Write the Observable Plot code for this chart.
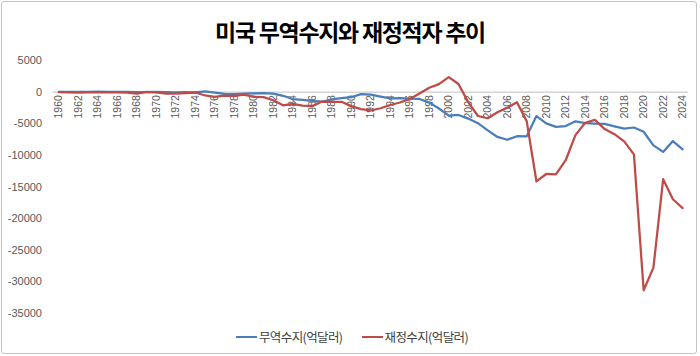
<!DOCTYPE html>
<html>
<head>
<meta charset="utf-8">
<script src="https://cdn.jsdelivr.net/npm/d3@7"></script>
<script src="https://cdn.jsdelivr.net/npm/@observablehq/plot@0.6"></script>
<style>
  html, body { margin: 0; padding: 0; background: #fff; }
  #wrap { position: relative; width: 700px; height: 356px; overflow: hidden; background: #fff; }
  #frame { position: absolute; left: 1px; top: 1px; width: 694px; height: 351px; border: 1.5px solid #c4c4c4; border-radius: 3px; }
  #title { position: absolute; left: 0; top: 19px; width: 700px; text-align: center;
    font-family: "Noto Sans CJK KR", sans-serif; font-weight: 700; font-size: 23px; line-height: 24px;
    letter-spacing: -1.3px; color: #000; }
  #chart { position: absolute; left: 0; top: 50px; }
  #legend { position: absolute; left: 2px; top: 329px; width: 700px; display: flex; justify-content: center; align-items: center;
    font-family: "Noto Sans CJK KR", sans-serif; font-size: 12.5px; line-height: 16px; color: #404040; letter-spacing: -0.6px; }
  .sw { width: 21px; height: 2.5px; margin-right: 2px; }
  .item { display: flex; align-items: center; }
</style>
</head>
<body>
<div id="wrap">
  <div id="frame"></div>
  <div id="title">미국 무역수지와 재정적자 추이</div>
  <div id="chart"></div>
  <div id="legend"></div>
</div>
<script>
const years = [1960,1961,1962,1963,1964,1965,1966,1967,1968,1969,
  1970,1971,1972,1973,1974,1975,1976,1977,1978,1979,
  1980,1981,1982,1983,1984,1985,1986,1987,1988,1989,
  1990,1991,1992,1993,1994,1995,1996,1997,1998,1999,
  2000,2001,2002,2003,2004,2005,2006,2007,2008,2009,
  2010,2011,2012,2013,2014,2015,2016,2017,2018,2019,
  2020,2021,2022,2023,2024];

// 무역수지 (억달러)
const tradeBalance = [35,42,34,42,68,49,29,26,3,1,
  23,-13,-54,19,-43,124,-61,-272,-298,-246,
  -194,-162,-242,-578,-1091,-1219,-1385,-1517,-1146,-931,
  -809,-311,-392,-703,-985,-964,-1041,-1083,-1661,-2586,
  -3725,-3615,-4182,-4905,-6052,-7086,-7533,-6967,-6983,-3792,
  -4947,-5486,-5368,-4619,-4903,-4985,-5020,-5420,-5785,-5594,
  -6264,-8416,-9448,-7734,-9035];

// 재정수지 (억달러)
const fiscalBalance = [3,-33,-71,-48,-59,-14,-37,-86,-252,32,
  -28,-230,-234,-149,-61,-532,-737,-537,-592,-407,
  -738,-790,-1280,-2078,-1854,-2123,-2212,-1497,-1552,-1526,
  -2210,-2692,-2903,-2551,-2032,-1640,-1074,-219,693,1256,
  2362,1282,-1578,-3776,-4127,-3183,-2482,-1607,-4586,-14127,
  -12944,-12996,-10766,-6798,-4848,-4385,-5847,-6654,-7791,-9836,
  -31325,-27753,-13759,-16940,-18330];

const xTickLabels = [1960,1962,1964,1966,1968,1970,1972,1974,1976,1978,1980,1982,1984,1986,1988,1990,
  1992,1994,1996,1998,2000,2002,2004,2006,2008,2010,2012,2014,2016,2018,2020,2022,2024];
const yTickValues = [5000,0,-5000,-10000,-15000,-20000,-25000,-30000,-35000];

const seriesNames = ["무역수지(억달러)", "재정수지(억달러)"];
const seriesColors = ["#4a7ebb", "#be4b48"];

const rows = years.map((y, i) => ({year: y, trade: tradeBalance[i], fiscal: fiscalBalance[i]}));

const chart = Plot.plot({
  width: 700,
  height: 276,
  marginTop: 10,
  marginBottom: 13,
  marginLeft: 52.5,
  marginRight: 12,
  style: {fontFamily: "'Liberation Sans', Arial, sans-serif", fontSize: "11px", color: "#595959", background: "transparent"},
  x: {domain: [1959.4, 2024.6], axis: null},
  y: {domain: [-35000, 5000], ticks: yTickValues, tickSize: 0, tickPadding: 11, tickFormat: d => String(d), label: null},
  marks: [
    Plot.ruleY([0], {stroke: "#bfbfbf", strokeWidth: 1}),
    Plot.text(xTickLabels, {x: d => d, y: () => 0, text: d => String(d), rotate: -90, textAnchor: "end", dy: 3,
      fontSize: 10.5, fill: "#595959"}),
    Plot.line(rows, {x: "year", y: "trade", stroke: seriesColors[0], strokeWidth: 2.25, strokeLinejoin: "round"}),
    Plot.line(rows, {x: "year", y: "fiscal", stroke: seriesColors[1], strokeWidth: 2.25, strokeLinejoin: "round"})
  ]
});
document.getElementById("chart").appendChild(chart);

const legend = document.getElementById("legend");
seriesNames.forEach((name, i) => {
  const item = document.createElement("div");
  item.className = "item";
  if (i > 0) item.style.marginLeft = "19px";
  const sw = document.createElement("div");
  sw.className = "sw";
  sw.style.background = seriesColors[i];
  const t = document.createElement("span");
  t.textContent = name;
  item.appendChild(sw);
  item.appendChild(t);
  legend.appendChild(item);
});
</script>
</body>
</html>
